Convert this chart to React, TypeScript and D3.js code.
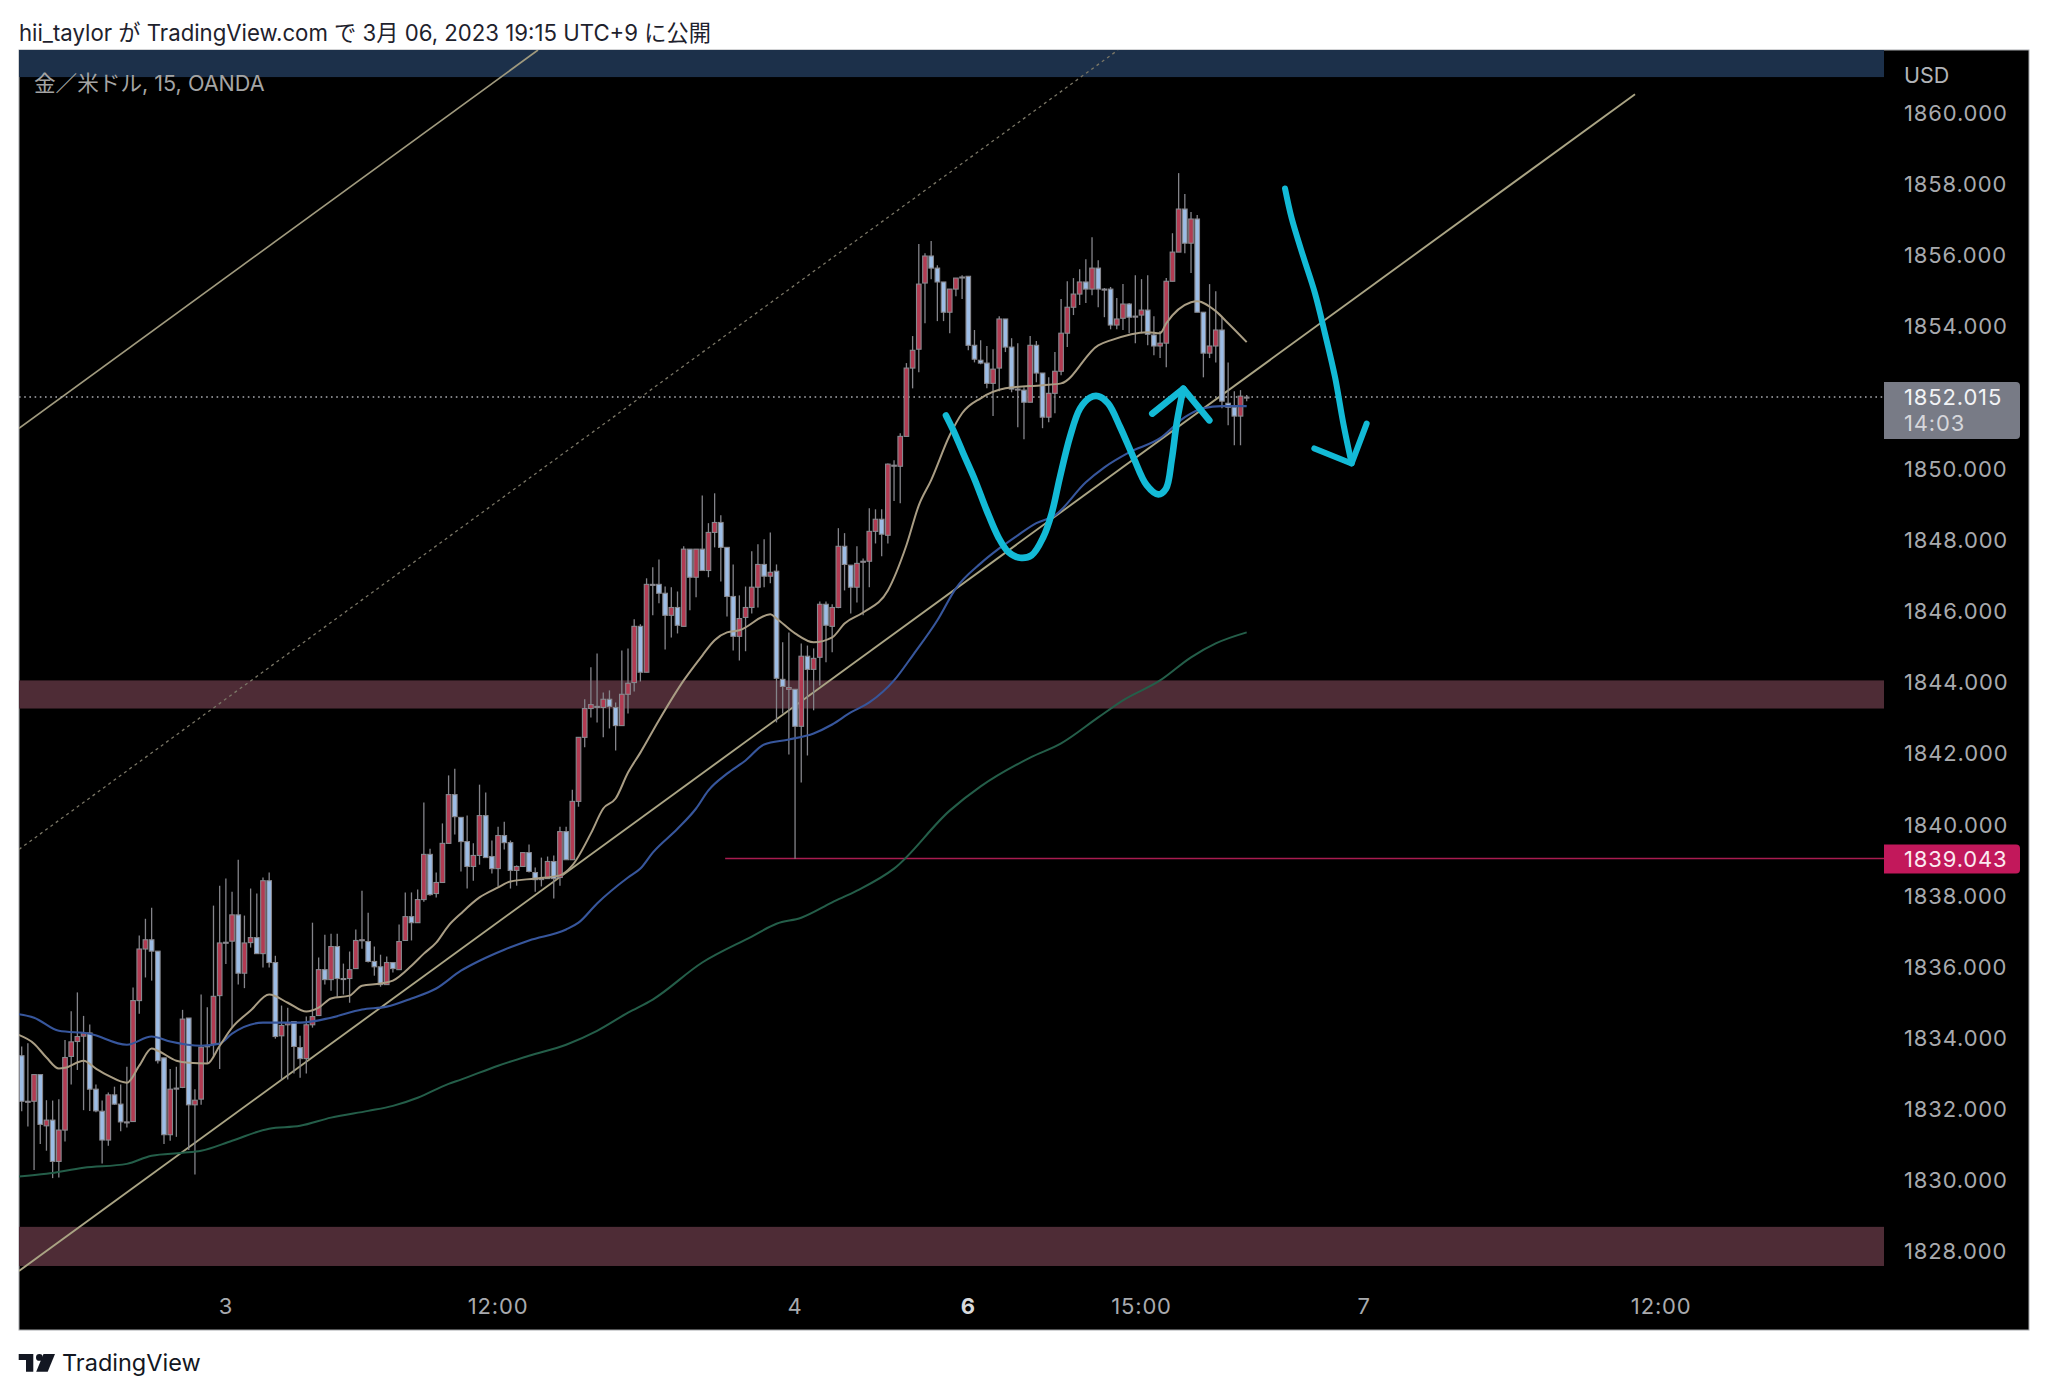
import React from 'react';
import * as d3 from 'd3';

// 15 minute bars
const opens = [
  1833.50,1832.22,1832.22,1832.97,1831.53,1831.69,1830.53,1831.41,1833.48,1833.90,
  1834.05,1834.14,1832.56,1831.94,1831.13,1832.40,1832.14,1831.64,1831.65,1835.05,
  1836.50,1836.76,1836.44,1833.44,1831.28,1832.59,1832.61,1834.56,1832.12,1832.28,
  1833.78,1833.83,1835.19,1836.69,1836.72,1837.46,1835.82,1836.68,1836.82,1836.37,
  1838.42,1836.12,1834.06,1834.37,1834.46,1833.73,1833.42,1834.37,1834.63,1835.92,
  1835.64,1836.57,1835.67,1835.67,1835.95,1836.76,1836.71,1836.15,1836.00,1835.50,
  1836.12,1835.92,1836.74,1837.41,1837.24,1837.89,1839.16,1838.06,1838.37,1839.47,
  1840.84,1840.20,1839.52,1838.82,1839.13,1840.25,1839.10,1838.76,1839.69,1839.49,
  1838.71,1838.82,1839.21,1838.65,1838.48,1838.48,1838.96,1838.51,1839.80,1839.01,
  1840.65,1842.45,1843.26,1843.32,1843.29,1843.52,1843.29,1842.78,1843.66,1843.99,
  1845.57,1844.28,1846.75,1846.75,1846.50,1845.88,1846.10,1845.57,1847.74,1846.95,
  1847.74,1847.14,1848.21,1848.49,1847.79,1846.41,1845.29,1845.82,1846.10,1846.67,
  1847.31,1846.98,1847.12,1844.08,1843.80,1843.80,1842.76,1844.73,1844.36,1844.70,
  1846.19,1845.57,1846.10,1847.82,1847.29,1846.67,1847.40,1847.40,1848.24,1848.58,
  1848.13,1850.10,1850.07,1850.91,1852.83,1853.36,1855.22,1855.98,1855.64,1855.25,
  1854.40,1855.05,1855.39,1855.41,1853.47,1853.05,1852.97,1852.40,1852.83,1854.21,
  1853.42,1852.24,1852.21,1851.87,1853.47,1852.69,1851.45,1852.12,1852.74,1853.81,
  1854.54,1854.91,1855.25,1855.05,1855.64,1855.05,1855.05,1854.04,1854.23,1854.63,
  1854.29,1854.32,1854.46,1853.76,1853.45,1853.53,1855.27,1856.09,1857.30,1856.34,
  1857.02,1854.40,1853.25,1853.45,1853.90,1851.84,1851.73,1851.48,1852.015,
];
const highs = [
  1833.76,1833.85,1832.97,1832.97,1832.25,1832.24,1832.28,1833.94,1834.75,1835.28,
  1834.62,1834.38,1832.69,1832.24,1832.47,1832.63,1832.69,1833.19,1835.42,1836.88,
  1837.35,1837.66,1836.44,1833.44,1833.13,1833.19,1834.79,1834.56,1832.56,1835.22,
  1834.86,1837.72,1838.28,1838.48,1838.11,1839.01,1837.44,1838.20,1838.06,1838.51,
  1838.65,1836.31,1834.91,1834.85,1834.46,1834.06,1834.60,1837.24,1836.26,1836.90,
  1836.93,1836.93,1836.09,1836.43,1837.05,1838.14,1837.52,1836.57,1836.34,1836.29,
  1836.12,1837.19,1838.09,1838.09,1838.17,1840.62,1839.32,1838.65,1840.03,1841.38,
  1841.57,1840.20,1840.25,1839.47,1841.12,1840.90,1839.55,1839.94,1840.08,1839.55,
  1838.85,1839.21,1839.44,1838.79,1839.07,1839.10,1839.13,1839.94,1839.94,1840.98,
  1842.45,1843.52,1844.42,1844.81,1843.71,1843.77,1843.43,1844.89,1844.95,1845.77,
  1845.63,1846.92,1847.23,1847.45,1846.69,1846.67,1846.55,1847.82,1847.74,1847.74,
  1849.25,1848.47,1849.31,1848.69,1847.79,1847.31,1846.44,1846.69,1847.68,1847.88,
  1848.02,1848.21,1847.31,1845.12,1845.40,1843.80,1845.09,1845.03,1844.95,1846.27,
  1846.27,1846.19,1848.33,1848.19,1847.29,1847.82,1847.48,1848.89,1848.86,1848.86,
  1850.15,1850.24,1851.00,1852.97,1853.73,1856.32,1856.06,1856.40,1855.72,1855.25,
  1855.05,1855.36,1855.44,1855.41,1853.90,1853.61,1853.45,1853.36,1854.29,1854.21,
  1853.67,1853.53,1852.29,1853.73,1853.59,1852.69,1852.57,1853.28,1854.77,1855.27,
  1855.36,1855.61,1855.89,1856.51,1855.86,1855.08,1855.11,1854.80,1855.19,1854.66,
  1855.44,1855.33,1855.44,1854.29,1853.87,1855.36,1856.62,1858.31,1857.72,1857.22,
  1857.13,1854.40,1855.19,1854.99,1854.26,1852.99,1852.18,1852.21,1852.07,
];
const lows = [
  1831.94,1831.51,1830.29,1831.02,1830.83,1830.06,1830.08,1831.09,1832.69,1833.10,
  1831.97,1831.95,1831.91,1830.47,1830.97,1832.12,1831.38,1831.48,1831.65,1834.68,
  1835.70,1835.61,1833.28,1831.02,1831.11,1831.22,1832.59,1830.85,1830.16,1832.12,
  1833.28,1833.45,1833.13,1836.08,1834.29,1835.50,1835.40,1836.54,1836.37,1835.98,
  1835.98,1833.98,1832.83,1832.83,1833.00,1832.88,1833.00,1834.29,1834.63,1835.50,
  1835.33,1835.13,1835.22,1834.99,1835.95,1836.51,1836.12,1835.75,1835.44,1835.50,
  1835.84,1835.92,1836.74,1836.74,1837.24,1837.83,1838.00,1837.95,1838.37,1839.47,
  1839.72,1838.68,1838.20,1838.42,1838.87,1839.07,1838.62,1838.26,1839.30,1838.20,
  1838.28,1838.82,1838.65,1838.11,1838.26,1838.48,1837.92,1838.28,1839.01,1839.01,
  1840.50,1842.17,1843.01,1842.87,1842.45,1842.70,1842.08,1842.78,1843.12,1843.74,
  1844.02,1844.28,1845.88,1846.22,1844.92,1845.26,1845.37,1845.57,1846.02,1846.39,
  1847.14,1846.95,1847.79,1846.83,1845.85,1844.89,1844.61,1844.87,1845.93,1846.10,
  1846.67,1846.78,1842.87,1843.12,1841.97,1839.04,1841.18,1841.94,1843.21,1843.91,
  1844.56,1844.84,1846.08,1846.58,1845.93,1846.24,1845.88,1846.67,1847.90,1847.54,
  1847.90,1849.09,1849.03,1850.91,1852.26,1852.71,1854.09,1855.33,1854.15,1854.15,
  1853.81,1854.85,1854.77,1853.33,1852.99,1852.94,1852.26,1851.48,1852.18,1853.28,
  1852.15,1851.17,1850.83,1851.87,1852.43,1851.14,1851.31,1851.56,1852.63,1853.42,
  1854.32,1854.60,1854.66,1854.88,1854.54,1854.26,1853.92,1853.92,1853.90,1853.81,
  1853.53,1853.81,1853.47,1853.19,1853.11,1852.85,1855.27,1856.09,1856.06,1855.50,
  1854.40,1852.57,1853.11,1852.99,1851.70,1851.22,1850.66,1850.66,1851.90,
];
const closes = [
  1832.22,1832.22,1832.97,1831.57,1831.69,1830.53,1831.41,1833.45,1833.89,1834.04,
  1834.12,1832.56,1831.95,1831.13,1832.40,1832.14,1831.64,1831.64,1835.05,1836.50,
  1836.76,1836.44,1833.36,1831.28,1832.56,1832.59,1834.53,1832.12,1832.25,1833.74,
  1833.78,1835.17,1836.67,1836.69,1837.46,1835.82,1836.67,1836.82,1836.37,1838.42,
  1836.12,1834.04,1834.35,1834.43,1833.76,1833.42,1834.37,1834.60,1835.92,1835.64,
  1836.57,1835.67,1835.67,1835.92,1836.74,1836.76,1836.15,1836.00,1835.50,1836.12,
  1835.95,1836.71,1837.41,1837.24,1837.89,1839.16,1838.03,1838.37,1839.47,1840.84,
  1840.22,1839.52,1838.82,1839.13,1840.25,1839.07,1838.76,1839.69,1839.49,1838.71,
  1838.82,1839.21,1838.68,1838.45,1838.48,1838.96,1838.48,1839.80,1839.01,1840.65,
  1842.45,1843.26,1843.37,1843.32,1843.52,1843.32,1842.78,1843.66,1843.97,1845.57,
  1844.28,1846.75,1846.75,1846.50,1845.88,1846.10,1845.60,1847.74,1846.95,1847.74,
  1847.14,1848.21,1848.49,1847.79,1846.41,1845.29,1845.79,1846.10,1846.67,1847.31,
  1846.98,1847.09,1844.11,1843.88,1843.85,1842.76,1844.73,1844.36,1844.67,1846.19,
  1845.60,1846.10,1847.82,1847.31,1846.67,1847.34,1847.40,1848.24,1848.58,1848.16,
  1850.13,1850.10,1850.91,1852.83,1853.33,1855.19,1855.98,1855.64,1855.25,1854.40,
  1855.05,1855.36,1855.39,1853.47,1853.08,1852.97,1852.40,1852.80,1854.21,1853.42,
  1852.24,1852.24,1851.87,1853.47,1852.69,1851.45,1852.12,1852.74,1853.81,1854.54,
  1854.91,1855.25,1855.05,1855.64,1855.05,1855.05,1854.04,1854.21,1854.63,1854.26,
  1854.29,1854.46,1853.78,1853.45,1853.53,1855.27,1856.09,1857.30,1856.34,1857.02,
  1854.40,1853.25,1853.45,1853.90,1851.90,1851.73,1851.48,1852.04,1852.015,
];

// moving averages as [bar index, price]
const maFast: [number, number][] = [
  [-1,1834.12],[2,1833.84],[4,1833.45],[6,1833.14],[7,1833.16],[10,1833.36],[12,1833.14],[14,1832.94],[17,1832.74],
  [19,1833.22],[21,1833.70],[22,1833.64],[25,1833.36],[27,1833.30],[30,1833.28],[32,1833.78],[34,1834.29],[37,1834.77],
  [40,1835.22],[43,1834.99],[46,1834.74],[48,1834.85],[50,1835.11],[53,1835.19],[55,1835.47],[58,1835.53],[60,1835.61],
  [63,1836.03],[65,1836.37],[67,1836.68],[69,1837.16],[71,1837.50],[74,1837.95],[77,1838.23],[79,1838.40],[83,1838.48],
  [87,1838.57],[89,1838.85],[92,1839.75],[94,1840.45],[96,1840.73],[98,1841.46],[100,1842.02],[103,1842.93],[107,1844.05],
  [110,1844.75],[112,1845.18],[114,1845.40],[116,1845.46],[121,1845.91],[122,1845.79],[125,1845.37],[128,1845.12],
  [131,1845.26],[133,1845.65],[136,1845.96],[140,1846.58],[143,1847.85],[145,1848.97],[147,1849.68],[150,1850.94],
  [152,1851.56],[155,1851.98],[159,1852.26],[165,1852.35],[168,1852.40],[174,1853.47],[176,1853.61],[182,1853.84],
  [184,1853.81],[185,1854.09],[189,1854.68],[190,1854.71],[193,1854.43],[195,1854.09],[198,1853.56],
];
const maMid: [number, number][] = [
  [-1,1834.68],[2,1834.57],[6,1834.20],[11,1834.12],[17,1833.81],[21,1834.04],[24,1833.90],[29,1833.78],[32,1833.84],
  [34,1834.12],[39,1834.43],[45,1834.43],[50,1834.57],[55,1834.80],[59,1834.88],[63,1835.11],[67,1835.39],[71,1835.89],
  [74,1836.17],[78,1836.48],[82,1836.74],[88,1837.05],[90,1837.24],[93,1837.78],[98,1838.51],[100,1838.76],[102,1839.21],
  [106,1839.88],[109,1840.45],[111,1840.96],[114,1841.43],[117,1841.80],[120,1842.25],[124,1842.39],[128,1842.56],
  [131,1842.81],[134,1843.15],[137,1843.43],[141,1844.05],[144,1844.75],[148,1845.74],[151,1846.64],[155,1847.34],
  [158,1847.76],[161,1848.13],[164,1848.47],[167,1848.69],[172,1849.62],[175,1850.04],[179,1850.46],[184,1850.86],
  [188,1851.45],[191,1851.70],[194,1851.76],[198,1851.76],
];
const maSlow: [number, number][] = [
  [-1,1830.10],[4,1830.18],[10,1830.35],[17,1830.46],[21,1830.69],[26,1830.77],[29,1830.83],[34,1831.11],[40,1831.45],
  [45,1831.53],[50,1831.76],[56,1831.95],[60,1832.09],[64,1832.32],[69,1832.71],[71,1832.83],[77,1833.22],[82,1833.50],
  [88,1833.81],[93,1834.20],[98,1834.71],[102,1835.08],[110,1836.12],[118,1836.85],[122,1837.21],[126,1837.38],
  [131,1837.81],[135,1838.14],[141,1838.76],[150,1840.39],[155,1841.07],[163,1841.88],[168,1842.28],[174,1843.01],
  [178,1843.49],[184,1844.05],[189,1844.70],[193,1845.09],[198,1845.40],
];

// drawings on the chart, also as [bar index, price]
const trendMain: [number, number][] = [[-0.44,1827.45],[260.76,1860.53]];
const trendUpper: [number, number][] = [[-0.44,1851.14],[83.45,1861.77]];
const trendDashed: [number, number][] = [[-0.44,1839.30],[177.2,1861.77]];
const lowLine: [number, number][] = [[113.7,1839.043]];

const waveStroke: [number, number][] = [
  [149.39,1851.50],[150.58,1851.08],[152.19,1850.43],[154.08,1849.68],[155.97,1848.83],[157.85,1848.08],[159.47,1847.66],
  [161.35,1847.50],[163.24,1847.57],[165.13,1848.08],[166.47,1848.74],[167.82,1849.77],[169.44,1850.90],[171.05,1851.69],
  [172.67,1852.00],[174.02,1852.04],[175.63,1851.83],[177.52,1851.18],[179.67,1850.33],[181.83,1849.54],[183.71,1849.28],
  [184.95,1849.44],[185.87,1850.24],[186.68,1851.27],[187.75,1852.25],
];
const waveHead: [number, number][] = [[182.74,1851.55],[187.75,1852.25],[191.96,1851.36]];
const downStroke: [number, number][] = [
  [204.19,1857.88],[205.27,1857.04],[207.15,1855.96],[209.04,1854.93],[210.65,1853.80],[212.27,1852.58],[213.62,1851.27],[214.96,1850.15],
];
const downHead: [number, number][] = [[208.93,1850.57],[214.96,1850.15],[217.39,1851.27]];

const priceTicks = [1828,1830,1832,1834,1836,1838,1840,1842,1844,1846,1848,1850,1854,1856,1858,1860];
const timeTicks = [
  { bar: 33, label: '3', bold: false },
  { bar: 77, label: '12:00', bold: false },
  { bar: 125, label: '4', bold: false },
  { bar: 153, label: '6', bold: true },
  { bar: 181, label: '15:00', bold: false },
  { bar: 217, label: '7', bold: false },
  { bar: 265, label: '12:00', bold: false },
];
const zones = [
  { top: 1861.8, bottom: 1861.01, fill: '#1c304a' },
  { top: 1844.05, bottom: 1843.26, fill: '#4e2c36' },
  { top: 1828.69, bottom: 1827.59, fill: '#4e2c36' },
];
const lastPrice = 1852.015;
const lowPrice = 1839.043;

const x = d3.scaleLinear().domain([0, 198]).range([21.7, 1246.7]);
const y = d3.scaleLinear().domain([1828, 1860]).range([1251.4, 113]);

const line = d3.line<[number, number]>().x(d => x(d[0])).y(d => y(d[1]));
const maLine = d3.line<[number, number]>().x(d => x(d[0])).y(d => y(d[1])).curve(d3.curveMonotoneX);
const inkLine = d3.line<[number, number]>().x(d => x(d[0])).y(d => y(d[1])).curve(d3.curveCatmullRom);

const UI_FONT = 'Inter, "Noto Sans CJK JP", sans-serif';
const PLOT_LEFT = 19;
const PLOT_RIGHT = 1884;
const PANEL_RIGHT = 2029;
const PANEL_TOP = 50;
const PANEL_BOTTOM = 1330;
const LABEL_X = 1904;

const App: React.FC = () => {
  return (
    <svg width={2048} height={1396} viewBox="0 0 2048 1396"
      style={{ position: 'absolute', left: 0, top: 0, background: '#fff' }} fontFamily={UI_FONT}>
      <defs>
        <clipPath id="plot">
          <rect x={PLOT_LEFT} y={PANEL_TOP} width={PLOT_RIGHT - PLOT_LEFT} height={PANEL_BOTTOM - PANEL_TOP} />
        </clipPath>
      </defs>

      <text x={19} y={41} fontSize={22.2} fill="#1e222d">hii_taylor が TradingView.com で 3月 06, 2023 19:15 UTC+9 に公開</text>

      <rect x={PLOT_LEFT} y={PANEL_TOP} width={PANEL_RIGHT - PLOT_LEFT} height={PANEL_BOTTOM - PANEL_TOP} fill="#000" stroke="#a6a8ab" strokeWidth={1} />

      <g clipPath="url(#plot)">
        {zones.map((z, i) => (
          <rect key={i} x={PLOT_LEFT} y={y(z.top)} width={PLOT_RIGHT - PLOT_LEFT} height={y(z.bottom) - y(z.top)} fill={z.fill} />
        ))}

        <path d={line(trendUpper) as string} fill="none" stroke="#a09a7e" strokeWidth={1.7} />
        <path d={line(trendDashed) as string} fill="none" stroke="#7a7666" strokeWidth={1.3} strokeDasharray="3 3.5" />
        <path d={line(trendMain) as string} fill="none" stroke="#aaa484" strokeWidth={1.9} />

        <line x1={PLOT_LEFT} x2={PLOT_RIGHT} y1={y(lastPrice)} y2={y(lastPrice)} stroke="#a9abb0" strokeWidth={1.4} strokeDasharray="1.6 3.6" />
        <line x1={x(lowLine[0][0])} x2={PLOT_RIGHT} y1={y(lowLine[0][1])} y2={y(lowLine[0][1])} stroke="#a81c50" strokeWidth={1.6} />

        {opens.map((o, i) => {
          const c = closes[i];
          const up = c >= o;
          const top = y(Math.max(o, c));
          const h = Math.max(y(Math.min(o, c)) - top, 1);
          return (
            <g key={i}>
              <line x1={x(i)} x2={x(i)} y1={y(highs[i])} y2={y(lows[i])} stroke="#84848a" strokeWidth={1.3} />
              <rect x={x(i) - 2.3} y={top} width={4.6} height={h} fill={up ? '#b23b52' : '#9dbde6'} stroke="#88888e" strokeWidth={1.1} />
            </g>
          );
        })}

        <path d={maLine(maSlow) as string} fill="none" stroke="#245e49" strokeWidth={2} />
        <path d={maLine(maMid) as string} fill="none" stroke="#37569c" strokeWidth={2.1} />
        <path d={maLine(maFast) as string} fill="none" stroke="#a99d84" strokeWidth={2} />

        <g fill="none" stroke="#13bad6" strokeWidth={6.6} strokeLinecap="round" strokeLinejoin="round">
          <path d={inkLine(waveStroke) as string} />
          <path d={line(waveHead) as string} />
          <path d={inkLine(downStroke) as string} strokeWidth={6} />
          <path d={line(downHead) as string} strokeWidth={6} />
        </g>
      </g>

      <text x={34} y={91} fontSize={21.6} fill="#a4a4a4">金／米ドル, 15, OANDA</text>

      <text x={LABEL_X} y={75} fontSize={21.5} fill="#b2b4b8" dominantBaseline="central">USD</text>
      {priceTicks.map(p => (
        <text key={p} x={LABEL_X} y={y(p)} fontSize={22} letterSpacing={0.85} fill="#a8aaae" dominantBaseline="central">{p.toFixed(3)}</text>
      ))}

      <path d={`M${PLOT_RIGHT},382 H2016 a4,4 0 0 1 4,4 V435 a4,4 0 0 1 -4,4 H${PLOT_RIGHT} Z`} fill="#787b86" />
      <text x={LABEL_X} y={y(lastPrice)} fontSize={22} letterSpacing={0.85} fill="#f2f3f5" dominantBaseline="central">{lastPrice.toFixed(3)}</text>
      <text x={LABEL_X} y={423} fontSize={22} letterSpacing={0.85} fill="#d6d7db" dominantBaseline="central">14:03</text>

      <path d={`M${PLOT_RIGHT},${y(lowPrice) - 14} H2016 a4,4 0 0 1 4,4 V${y(lowPrice) + 11} a4,4 0 0 1 -4,4 H${PLOT_RIGHT} Z`} fill="#c2185b" />
      <text x={LABEL_X} y={y(lowPrice)} fontSize={22} letterSpacing={0.85} fill="#fbeaf1" dominantBaseline="central">{lowPrice.toFixed(3)}</text>

      {timeTicks.map((t, i) => (
        <text key={i} x={x(t.bar)} y={1306} fontSize={22} letterSpacing={0.85} textAnchor="middle" dominantBaseline="central"
          fill={t.bold ? '#d8d9dc' : '#a8aaae'} fontWeight={t.bold ? 700 : 400}>{t.label}</text>
      ))}

      <g fill="#131722">
        <path d="M18.7,1354 H33.3 V1371.7 H26 V1360 H18.7 Z" />
        <circle cx={39.4} cy={1357.4} r={3.4} />
        <path d="M43.5,1354 H55 L47.7,1371.7 H36.2 Z" />
      </g>
      <text x={62} y={1371} fontSize={23.5} fill="#131722">TradingView</text>
    </svg>
  );
};

export default App;
